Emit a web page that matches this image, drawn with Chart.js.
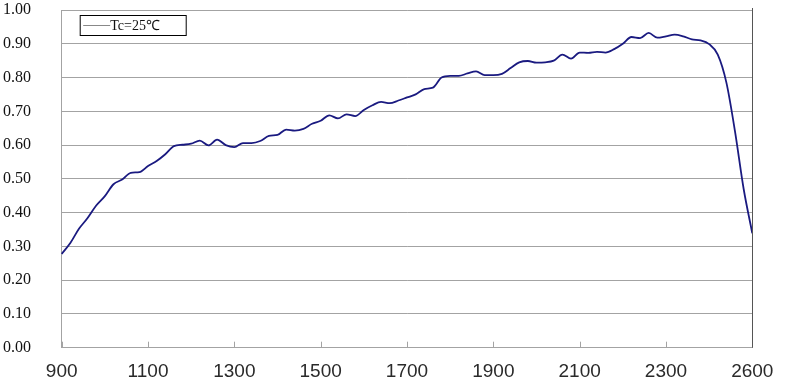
<!DOCTYPE html>
<html>
<head>
<meta charset="utf-8">
<script src="https://cdn.jsdelivr.net/npm/chart.js@4/dist/chart.umd.min.js"></script>
<style>
html,body{margin:0;padding:0;background:#fff;}
#c{display:block;}
</style>
</head>
<body>
<canvas id="c" width="800" height="391"></canvas>
<script>
// Wavelength categories (nm) as labelled on the original category axis
const wavelengths = [
  900,920,940,960,980,1000,1020,1040,1060,1080,
  1100,1120,1140,1160,1180,1200,1220,1240,1260,1280,
  1300,1320,1340,1360,1380,1400,1420,1440,1460,1480,
  1500,1520,1540,1560,1580,1600,1620,1640,1660,1680,
  1700,1720,1740,1760,1780,1800,1820,1840,1860,1880,
  1900,1920,1940,1960,1980,2000,2020,2040,2060,2080,
  2100,2120,2140,2160,2180,2200,2220,2240,2260,2280,
  2300,2320,2340,2360,2380,2400,2420,2440,2460,2480,
  2600
];
// Relative response at Tc = 25 ℃
const response25 = [
  0.278,0.310,0.352,0.384,0.421,0.449,0.484,0.498,0.518,0.520,
  0.538,0.553,0.573,0.597,0.601,0.604,0.613,0.599,0.616,0.600,
  0.594,0.606,0.606,0.612,0.627,0.630,0.646,0.643,0.648,0.663,
  0.672,0.688,0.679,0.691,0.686,0.704,0.718,0.728,0.724,0.732,
  0.741,0.750,0.766,0.770,0.800,0.805,0.805,0.812,0.818,0.807,
  0.807,0.811,0.828,0.845,0.849,0.844,0.845,0.850,0.868,0.856,
  0.874,0.873,0.876,0.874,0.884,0.900,0.920,0.917,0.932,0.918,
  0.922,0.927,0.922,0.913,0.910,0.899,0.868,0.785,0.640,0.470,
  0.339
];
const seriesLabel = "Tc=25℃";
const labelEvery = 10;   // one x tick label every 10 categories
const yMin = 0, yMax = 1, yStep = 0.1;

const GRID = '#a3a3a3';

const extras = {
  id: 'extras',
  afterDraw(chart) {
    const ctx = chart.ctx, a = chart.chartArea, xs = chart.scales.x;
    ctx.save();
    // inward tick marks on the category axis
    ctx.strokeStyle = GRID;
    ctx.lineWidth = 1;
    for (let i = 0; i < wavelengths.length; i += labelEvery) {
      const px = Math.round(xs.getPixelForValue(i)) + 0.5;
      ctx.beginPath();
      ctx.moveTo(px, a.bottom);
      ctx.lineTo(px, a.bottom - 6);
      ctx.stroke();
    }
    // right frame line
    ctx.strokeStyle = '#555';
    const rx = Math.round(a.right) + 0.5;
    ctx.beginPath();
    ctx.moveTo(rx, a.top - 2);
    ctx.lineTo(rx, a.bottom);
    ctx.stroke();
    // legend box
    const lx = a.left + 18.5, ly = a.top + 5.5, lw = 106, lh = 20;
    ctx.fillStyle = '#fff';
    ctx.fillRect(lx, ly, lw, lh);
    ctx.strokeStyle = '#000';
    ctx.strokeRect(lx, ly, lw, lh);
    ctx.strokeStyle = '#888';
    ctx.beginPath();
    ctx.moveTo(lx + 3, ly + 10);
    ctx.lineTo(lx + 30, ly + 10);
    ctx.stroke();
    ctx.fillStyle = '#111';
    ctx.font = '14px "Liberation Serif", serif';
    ctx.textBaseline = 'middle';
    ctx.fillText(chart.data.datasets[0].label, lx + 30, ly + 10.5);
    ctx.restore();
  }
};

new Chart(document.getElementById('c'), {
  type: 'line',
  data: {
    labels: wavelengths.map(String),
    datasets: [{
      label: seriesLabel,
      data: response25,
      borderColor: '#1a1a80',
      borderWidth: 1.8,
      pointRadius: 0,
      fill: false,
      cubicInterpolationMode: 'monotone'
    }]
  },
  options: {
    responsive: false,
    devicePixelRatio: 1,
    animation: false,
    layout: { padding: { top: 10, right: 47.7, left: 3, bottom: 0 } },
    plugins: { legend: { display: false }, tooltip: { enabled: false } },
    scales: {
      x: {
        type: 'category',
        offset: false,
        grid: { display: false, drawTicks: false },
        border: { display: true, color: GRID, width: 1 },
        ticks: {
          autoSkip: false,
          maxRotation: 0,
          padding: 13,
          color: '#2a2a2a',
          font: { family: '"Liberation Sans", sans-serif', size: 19 },
          callback(v, i) { return i % labelEvery === 0 ? this.getLabelForValue(v) : null; }
        },
        afterFit(s) { s.height = 43.3; }
      },
      y: {
        min: yMin, max: yMax,
        grid: { color: GRID, drawTicks: false, lineWidth: 1 },
        border: { display: true, color: GRID, width: 1 },
        ticks: {
          stepSize: yStep,
          padding: 0,
          crossAlign: 'far',
          color: '#111',
          font: { family: '"Liberation Serif", serif', size: 16 },
          callback: v => v.toFixed(2)
        },
        afterFit(s) { s.width = 58.7; }
      }
    }
  },
  plugins: [extras]
});
</script>
</body>
</html>
